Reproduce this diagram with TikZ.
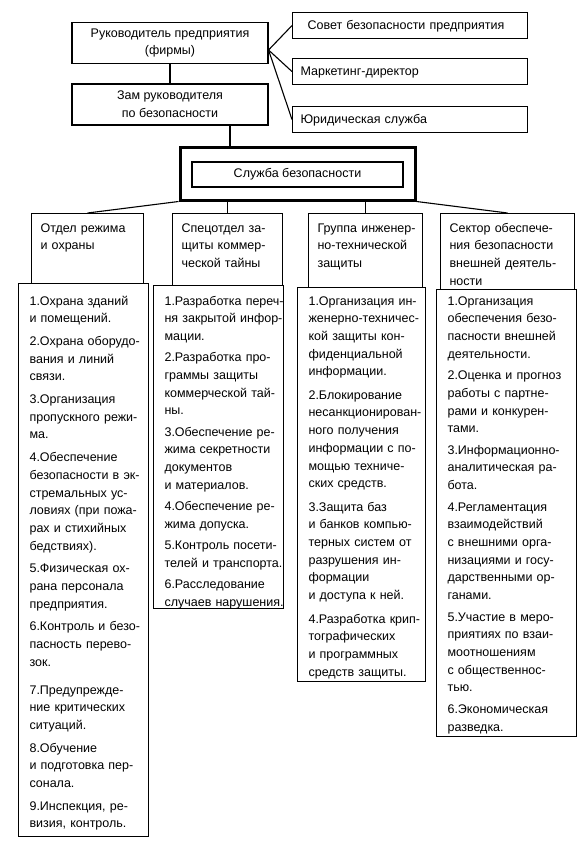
\documentclass[tikz,border=0pt]{standalone}
\usepackage{fontspec}
\setmainfont{Liberation Sans}
\newcommand\dgfont{\fontsize{12.5bp}{17.7bp}\selectfont}
\tikzset{
  box/.style={draw, line width=1.1bp, inner sep=0pt, font=\dgfont},
  topbox/.style={box, minimum width=196bp, minimum height=41bp, align=center},
  sidebox/.style={box, anchor=north west, text width=235bp, text height=17bp,
    text depth=9bp, align=left, execute at begin node={\leftskip=#1}},
  sidebox/.default=8bp,
  dept/.style n args={3}{box, anchor=north west, align=left, text width=#1,
    text height=18.5bp, text depth=#2-18.5bp, execute at begin node={\leftskip=9bp}},
  lst/.style n args={3}{box, anchor=north west, align=left, text width=#1,
    text height=#2, text depth=#3-#2,
    execute at begin node={\leftskip=11bp\rightskip=0pt plus 2em minus 20bp}}
}
\begin{document}
\begin{tikzpicture}[x=1bp, y=-1bp]
  \useasboundingbox (0,0) rectangle (583,844);
  \node[topbox] (ruk) at (170,43) {Руководитель предприятия\\(фирмы)};
  \node[topbox] (zam) at (170,104.5) {Зам руководителя\\по безопасности};
  \node[sidebox=15bp] (sov) at (292,12) {Совет безопасности предприятия};
  \node[sidebox] (mkt) at (292,58) {Маркетинг-директор};
  \node[sidebox] (jur) at (292,106) {Юридическая служба};
  \node[box, line width=3bp, minimum width=235bp, minimum height=53bp] (sbo) at (297.5,173.5) {};
  \node[box, minimum width=211bp, minimum height=25bp] (sb) at (297.5,174.5) {Служба безопасности};

  \node[dept={112bp}{70bp}{}] (d1) at (31,213) {Отдел режима\\и охраны};
  \node[dept={110bp}{72bp}{}] (d2) at (172,213) {Спецотдел за-\\щиты коммер-\\ческой тайны};
  \node[dept={114bp}{74bp}{}] (d3) at (308,213) {Группа инженер-\\но-технической\\защиты};
  \node[dept={134bp}{76bp}{}] (d4) at (440,213) {Сектор обеспече-\\ния безопасности\\внешней деятель-\\ности};

  \node[lst={130bp}{21.5bp}{553bp}] (l1) at (18,283) {1.Охрана зданий\\и помещений.\\[5bp]
    2.Охрана оборудо-\\вания и линий\\связи.\\[5bp]
    3.Организация\\пропускного режи-\\ма.\\[5bp]
    4.Обеспечение\\безопасности в эк-\\стремальных ус-\\ловиях (при пожа-\\рах и стихийных\\бедствиях).\\[5bp]
    5.Физическая ох-\\рана персонала\\предприятия.\\[5bp]
    6.Контроль и безо-\\пасность перево-\\зок.\\[10bp]
    7.Предупрежде-\\ние критических\\ситуаций.\\[5bp]
    8.Обучение\\и подготовка пер-\\сонала.\\[5bp]
    9.Инспекция, ре-\\визия, контроль.};
  \node[lst={130bp}{19.5bp}{323bp}] (l2) at (153,285) {1.Разработка переч-\\ня закрытой инфор-\\мации.\\[3.6bp]
    2.Разработка про-\\граммы защиты\\коммерческой тай-\\ны.\\[3.6bp]
    3.Обеспечение ре-\\жима секретности\\документов\\и материалов.\\[3.6bp]
    4.Обеспечение ре-\\жима допуска.\\[3.6bp]
    5.Контроль посети-\\телей и транспорта.\\[3.6bp]
    6.Расследование\\случаев нарушения.};
  \node[lst={128bp}{17.5bp}{394bp}] (l3) at (297,287) {1.Организация ин-\\женерно-техничес-\\кой защиты кон-\\фиденциальной\\информации.\\[5.7bp]
    2.Блокирование\\несанкционирован-\\ного получения\\информации с по-\\мощью техниче-\\ских средств.\\[5.7bp]
    3.Защита баз\\и банков компью-\\терных систем от\\разрушения ин-\\формации\\и доступа к ней.\\[5.7bp]
    4.Разработка крип-\\тографических\\и программных\\средств защиты.};
  \node[lst={140bp}{15.5bp}{447bp}] (l4) at (436,289) {1.Организация\\обеспечения безо-\\пасности внешней\\деятельности.\\[3.8bp]
    2.Оценка и прогноз\\работы с партне-\\рами и конкурен-\\тами.\\[3.8bp]
    3.Информационно-\\аналитическая ра-\\бота.\\[3.8bp]
    4.Регламентация\\взаимодействий\\с внешними орга-\\низациями и госу-\\дарственными ор-\\ганами.\\[3.8bp]
    5.Участие в меро-\\приятиях по взаи-\\моотношениям\\с общественнос-\\тью.\\[3.8bp]
    6.Экономическая\\разведка.};

  \draw[line width=1.1bp] (ruk.south) -- (zam.north);
  \coordinate (fan) at ([yshift=-7bp]ruk.east);
  \foreach \n in {sov,mkt,jur}
    \draw[line width=1.1bp] (fan) -- (\n.west);
  \draw[line width=1.1bp] ([xshift=60bp]zam.south) -- ([xshift=60bp]zam.south |- sbo.north);
  \draw[line width=1.1bp] (sbo.south west) -- (d1.north);
  \draw[line width=1.1bp] (sbo.south east) -- (d4.north);
  \draw[line width=1.1bp] (d2.north |- sbo.south) -- (d2.north);
  \draw[line width=1.1bp] (d3.north |- sbo.south) -- (d3.north);
\end{tikzpicture}
\end{document}
